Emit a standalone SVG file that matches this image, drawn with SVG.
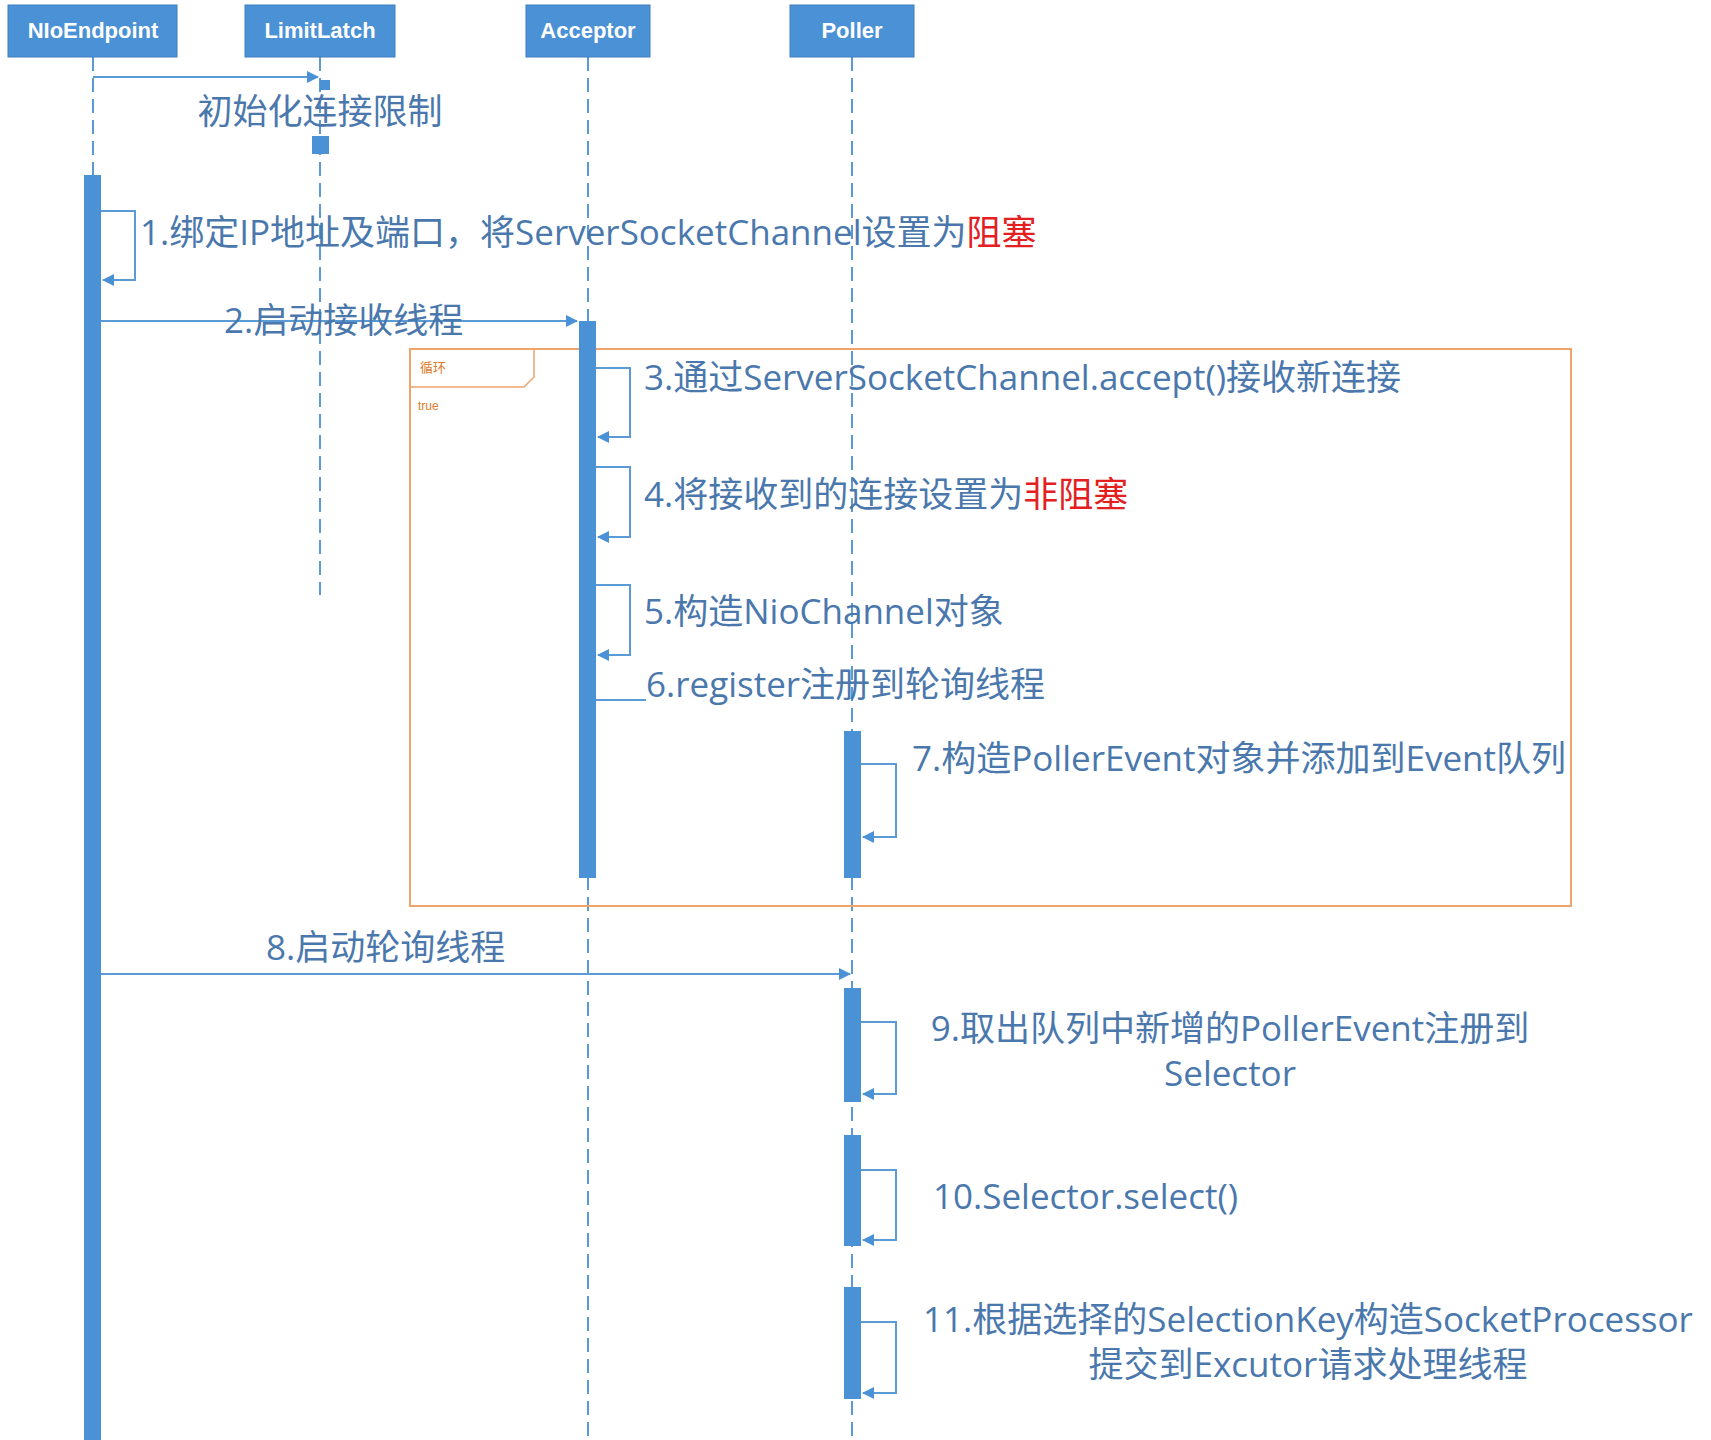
<svg xmlns="http://www.w3.org/2000/svg" width="1711" height="1440" viewBox="0 0 1711 1440">
<style>
.hd{fill:#4b91d6;stroke:#3f7fc0;stroke-width:1}
.ht{fill:#fff;font:bold 22px "Liberation Sans","Noto Sans CJK SC",sans-serif;text-anchor:middle}
.ll{stroke:#5b9bd5;stroke-width:2;stroke-dasharray:14,7;fill:none}
.bar{fill:#4b91d6}
.m{stroke:#5b9bd5;stroke-width:2;fill:none}
.t{fill:#4a78ad;font:35px "Open Sans","Noto Sans CJK SC",sans-serif}
.r{fill:#e3201f}
</style>
<defs><marker id="a" markerWidth="12" markerHeight="12" refX="11" refY="6" orient="auto" markerUnits="userSpaceOnUse"><path d="M0,0 L12,6 L0,12 z" fill="#4b91d6"/></marker></defs>
<rect width="1711" height="1440" fill="#fff"/>
<g id="lifelines">
<line class="ll" x1="93" y1="57" x2="93" y2="175"/>
<line class="ll" x1="320" y1="57" x2="320" y2="595"/>
<line class="ll" x1="588" y1="57" x2="588" y2="1440"/>
<line class="ll" x1="852" y1="57" x2="852" y2="1440"/>
</g>
<g id="NIoEndpoint"><rect class="hd" x="8" y="5" width="169" height="52"/><text class="ht" x="93" y="38">NIoEndpoint</text></g>
<g id="LimitLatch"><rect class="hd" x="245" y="5" width="150" height="52"/><text class="ht" x="320" y="38">LimitLatch</text></g>
<g id="Acceptor"><rect class="hd" x="526" y="5" width="124" height="52"/><text class="ht" x="588" y="38">Acceptor</text></g>
<g id="Poller"><rect class="hd" x="790" y="5" width="124" height="52"/><text class="ht" x="852" y="38">Poller</text></g>
<g id="loop">
<rect x="410" y="349" width="1161" height="557" fill="none" stroke="#f0a36a" stroke-width="2"/>
<path d="M410,387 H524 L534,377 V349" fill="none" stroke="#f0a36a" stroke-width="1.5"/>
<text x="420" y="372" fill="#e07b2a" font-family="Noto Sans CJK SC,sans-serif" font-size="13">循环</text>
<text x="418" y="410" fill="#e07b2a" font-family="Liberation Sans,sans-serif" font-size="12">true</text>
</g>
<g id="activations">
<rect class="bar" x="84" y="175" width="17" height="1265"/>
<rect class="bar" x="320" y="80" width="10" height="10"/>
<rect class="bar" x="312" y="136" width="17" height="18"/>
<rect class="bar" x="579" y="321" width="17" height="557"/>
<rect class="bar" x="844" y="731" width="17" height="147"/>
<rect class="bar" x="844" y="988" width="17" height="114"/>
<rect class="bar" x="844" y="1135" width="17" height="111"/>
<rect class="bar" x="844" y="1287" width="17" height="112"/>
</g>
<g id="connectors">
<path class="m" d="M93,77 H318" marker-end="url(#a)"/>
<path class="m" d="M101,211 H135 V280 H103" marker-end="url(#a)"/>
<path class="m" d="M101,321 H577" marker-end="url(#a)"/>
<path class="m" d="M596,368 H630 V437 H598" marker-end="url(#a)"/>
<path class="m" d="M596,467 H630 V537 H598" marker-end="url(#a)"/>
<path class="m" d="M596,585 H630 V655 H598" marker-end="url(#a)"/>
<path class="m" d="M596,700 H646"/>
<path class="m" d="M861,764 H896 V837 H863" marker-end="url(#a)"/>
<path class="m" d="M101,974 H850" marker-end="url(#a)"/>
<path class="m" d="M861,1022 H896 V1094 H863" marker-end="url(#a)"/>
<path class="m" d="M861,1170 H896 V1240 H863" marker-end="url(#a)"/>
<path class="m" d="M861,1322 H896 V1393 H863" marker-end="url(#a)"/>
</g>
<g id="labels">
<text class="t" x="320" y="124" text-anchor="middle">初始化连接限制</text>
<text class="t" x="140" y="245">1.绑定IP地址及端口，将ServerSocketChannel设置为<tspan class="r">阻塞</tspan></text>
<text class="t" x="224" y="333">2.启动接收线程</text>
<text class="t" x="644" y="390">3.通过ServerSocketChannel.accept()接收新连接</text>
<text class="t" x="644" y="507">4.将接收到的连接设置为<tspan class="r">非阻塞</tspan></text>
<text class="t" x="644" y="624">5.构造NioChannel对象</text>
<text class="t" x="646" y="697">6.register注册到轮询线程</text>
<text class="t" x="912" y="771">7.构造PollerEvent对象并添加到Event队列</text>
<text class="t" x="266" y="960">8.启动轮询线程</text>
<text class="t" x="1230" y="1041" text-anchor="middle">9.取出队列中新增的PollerEvent注册到</text>
<text class="t" x="1230" y="1086" text-anchor="middle">Selector</text>
<text class="t" x="933" y="1209">10.Selector.select()</text>
<text class="t" x="1308" y="1332" text-anchor="middle">11.根据选择的SelectionKey构造SocketProcessor</text>
<text class="t" x="1308" y="1377" text-anchor="middle">提交到Excutor请求处理线程</text>
</g>
</svg>
